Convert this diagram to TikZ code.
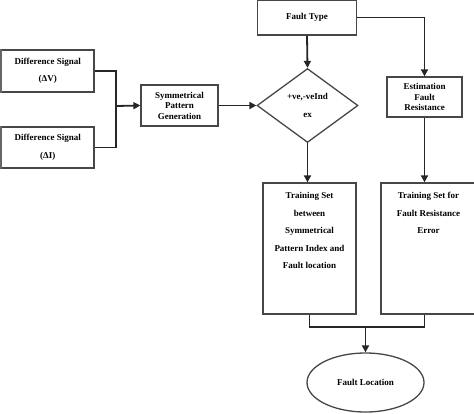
\documentclass[tikz,border=0pt]{standalone}
\usepackage{fontspec}
\setmainfont{Liberation Serif}
\usetikzlibrary{shapes.geometric,arrows.meta}
\begin{document}
\begin{tikzpicture}[x=1pt,y=-1pt,
  box/.style={draw=black!72, line width=1.3pt, fill=white, inner sep=0pt, align=center,
    font=\bfseries\fontsize{9}{10.5}\selectfont},
  ln/.style={line width=1.8pt, draw=black!85},
  arr/.style={ln, -{Triangle[length=7pt,width=7pt]}}]
\useasboundingbox (0,0) rectangle (474,413);

\node[box, minimum width=92.5, minimum height=42] (dv) at (47.75,71) {Difference Signal\\[7pt](ΔV)};
\node[box, minimum width=92.5, minimum height=41] (di) at (47.75,147.5) {Difference Signal\\[7pt](ΔI)};
\draw[line width=2.8pt, black!60] (dv.north west) -- (dv.south west);
\draw[line width=2.8pt, black!60] (di.north west) -- (di.south west);

\node[box, minimum width=77, minimum height=41] (sym) at (179.5,105.5) {Symmetrical\\Pattern\\Generation};
\node[box, minimum width=99, minimum height=35] (ft) at (307,17.5) {Fault Type};
\draw[line width=2.2pt, black!40] (ft.north west) -- (ft.north east);
\node[box, shape=diamond, minimum width=101, minimum height=74] (dia) at (307.5,105.5) {+ve,-veInd\\[8pt]ex};
\node[box, minimum width=75, minimum height=40] (est) at (424.5,97) {Estimation\\Fault\\Resistance};

\node[box, minimum width=93, minimum height=131] (tsl) at (309.5,248.5)
  {\parbox[c][131pt][t]{90pt}{\centering\fontsize{9}{17.5}\selectfont\vspace*{9.5pt}Training Set\\between\\Symmetrical\\Pattern Index and\\Fault location}};
\node[box, minimum width=95, minimum height=131] (tsf) at (428.5,248.5)
  {\parbox[c][131pt][t]{92pt}{\centering\fontsize{9}{17.5}\selectfont\vspace*{9.5pt}Training Set for\\Fault Resistance\\Error}};

\node[box, shape=ellipse, minimum width=117, minimum height=59] (fl) at (365.5,382.5) {Fault Location};

\coordinate (j1) at (116,106);
\coordinate (m) at (365.5,327);

\draw[ln] (dv.east) -| (j1);
\draw[ln] (di.east) -| (j1);
\draw[arr] (j1) -- (sym.west);
\draw[arr] (sym.east) -- (dia.west);
\draw[arr] (ft.south) -- (dia.north);
\draw[arr] (ft.east) -| (est.north);
\draw[arr] (est.south) -- (est.south |- tsf.north);
\draw[arr] (dia.south) -- (dia.south |- tsl.north);
\draw[ln] (tsl.south) |- (m) -| (est.south |- tsf.south);
\draw[arr] (m) -- (fl.north);
\end{tikzpicture}
\end{document}
